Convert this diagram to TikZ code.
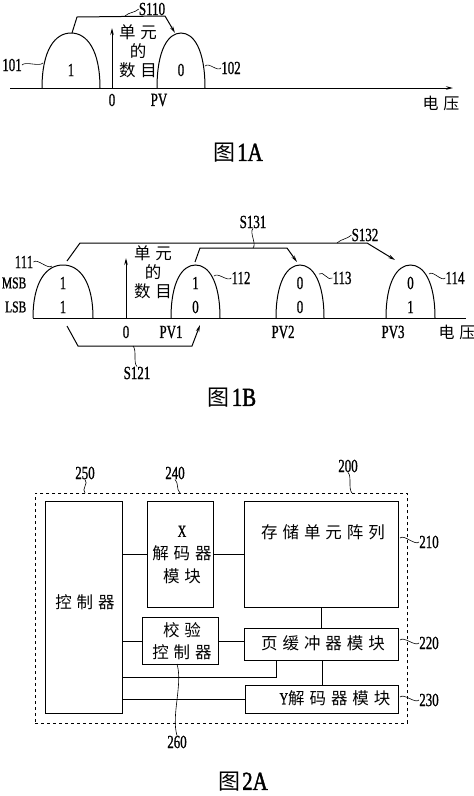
\documentclass[tikz,border=0pt]{standalone}
\usepackage{fontspec}
\setmainfont{Liberation Serif}
\newfontfamily\numf[FakeStretch=0.7,FakeBold=1]{Liberation Serif}
\newfontfamily\titf[FakeStretch=0.8,FakeBold=1.5]{Liberation Serif}
\newfontfamily\cjk{Noto Sans CJK SC}
\newfontfamily\cjkls[LetterSpace=30]{Noto Sans CJK SC}
\usetikzlibrary{arrows.meta}
\tikzset{
  num/.style={font=\numf\fontsize{18.5}{18.5}\selectfont, inner sep=0pt},
  cj/.style={font=\cjkls\fontsize{16.5}{19}\selectfont, inner sep=0pt, align=center},
  cjb/.style={font=\cjkls\fontsize{16.5}{23}\selectfont, inner sep=0pt, align=center},
  ttl/.style={inner sep=0pt},
  ln/.style={line width=1pt},
  arr/.style={ln, -{Stealth[length=7pt,width=3.5pt]}},
  sq/.style={line width=0.6pt},
  blk/.style={draw, line width=1pt, inner sep=0pt, anchor=north west},
  outerbox/.style={draw, dashed, line width=0.8pt, inner sep=0pt, anchor=north west},
}
\begin{document}
\begin{tikzpicture}[x=1pt,y=-1pt]
\useasboundingbox (0,0) rectangle (474,796);
% ---------------- Fig 1A ----------------
\coordinate (a0) at (10,88); \coordinate (a1) at (453,88);
\draw[ln,-{Stealth[length=7pt,width=3.5pt]}] (a0) -- (a1);
\draw[ln] (42,88) .. controls (42,50) and (55,33) .. (71,33) .. controls (87,33) and (100,50) .. (100,88);
\draw[ln] (157,88) .. controls (157,50) and (168,33) .. (181,33) .. controls (194,33) and (205,50) .. (205,88);
\node[num] (h101) at (71,70) {1};
\node[num] (h102) at (181,70) {0};
\node[num] (l101) at (12,65) {101};
\coordinate (p101) at (43,63);
\draw[sq] (l101.east) .. controls +(4,-4) and +(-4,4) .. (p101);
\node[num] (l102) at (231,68) {102};
\coordinate (p102) at (205,66);
\draw[sq] (p102) .. controls +(4,-4) and +(-4,4) .. (l102.west);
\coordinate (v0a) at (112,88); \coordinate (v1a) at (112,28);
\draw[arr] (v0a) -- (v1a);
\node[cj] (n1a) at (138,51) {单元\\的\\数目};
\node[num] (z1a) at (112,100) {0};
\node[num] (pv) at (159,100) {PV};
\node[cj,font=\cjkls\fontsize{16}{16}\selectfont] (volt1a) at (441,103) {电压};
\coordinate (s110s) at (72,33); \coordinate (s110b) at (77,17);
\coordinate (s110c) at (165,16); \coordinate (s110e) at (175,33);
\draw[arr] (s110s) -- (s110b) -- (s110c) -- (s110e);
\node[num] (s110) at (152,9) {S110};
\coordinate (q110) at (125,16);
\draw[sq] (q110) .. controls +(4,-4) and +(-4,4) .. (s110.west);
\node[ttl] (t1a) at (238,153) {{\cjk\fontsize{22}{22}\selectfont 图}\hspace{2pt}{\titf\fontsize{26}{26}\selectfont 1A}};
% ---------------- Fig 1B ----------------
\coordinate (b0) at (33,318); \coordinate (b1) at (466,318);
\draw[ln] (b0) -- (b1);
\draw[ln] (33,318) .. controls (33,282) and (46,265) .. (63,265) .. controls (80,265) and (93,282) .. (93,318);
\draw[ln] (171,318) .. controls (171,282) and (182,265) .. (195.5,265) .. controls (209,265) and (220,282) .. (220,318);
\draw[ln] (276,318) .. controls (276,282) and (287,265) .. (300,265) .. controls (313,265) and (324,282) .. (324,318);
\draw[ln] (386,318) .. controls (386,282) and (397,265) .. (410.5,265) .. controls (424,265) and (435,282) .. (435,318);
\node[num,anchor=east,font=\numf\fontsize{16.5}{16.5}\selectfont] (msb) at (26.5,283) {MSB};
\node[num,anchor=east,font=\numf\fontsize{16.5}{16.5}\selectfont] (lsb) at (26.5,307) {LSB};
\node[num] (m111) at (63,283) {1}; \node[num] (b111) at (63,307) {1};
\node[num] (m112) at (195.5,283) {1}; \node[num] (b112) at (195.5,307) {0};
\node[num] (m113) at (300,283) {0}; \node[num] (b113) at (300,307) {0};
\node[num] (m114) at (410.5,283) {0}; \node[num] (b114) at (410.5,307) {1};
\node[num] (l111) at (24,262) {111};
\coordinate (p111) at (52,266);
\draw[sq] (l111.east) .. controls +(4,-4) and +(-4,4) .. (p111);
\node[num] (l112) at (241,278) {112};
\coordinate (p112) at (214,276);
\draw[sq] (p112) .. controls +(4,-4) and +(-4,4) .. (l112.west);
\node[num] (l113) at (342,278) {113};
\coordinate (p113) at (319,274);
\draw[sq] (p113) .. controls +(4,-4) and +(-4,4) .. (l113.west);
\node[num] (l114) at (455,278) {114};
\coordinate (p114) at (429,274);
\draw[sq] (p114) .. controls +(4,-4) and +(-4,4) .. (l114.west);
\coordinate (v0b) at (126,318); \coordinate (v1b) at (126,258);
\draw[arr] (v0b) -- (v1b);
\node[cj] (n1b) at (153,272) {单元\\的\\数目};
\node[num] (z1b) at (126,332) {0};
\node[num] (pv1) at (171,332) {PV1};
\node[num] (pv2) at (283,332) {PV2};
\node[num] (pv3) at (393,332) {PV3};
\node[cj,font=\cjkls\fontsize{16}{16}\selectfont] (volt1b) at (457,332) {电压};
% S121
\coordinate (s121s) at (67,326); \coordinate (s121b) at (78,346);
\coordinate (s121c) at (192,346); \coordinate (s121e) at (200,325);
\draw[arr] (s121s) -- (s121b) -- (s121c) -- (s121e);
\node[num] (s121) at (137,373) {S121};
\coordinate (q121) at (133,346);
\draw[sq] (q121) .. controls +(4,4) and +(-4,-4) .. (s121.north);
% S132
\coordinate (s132s) at (67,261); \coordinate (s132b) at (80,243);
\coordinate (s132c) at (367,243); \coordinate (s132e) at (395,260);
\draw[arr] (s132s) -- (s132b) -- (s132c) -- (s132e);
\node[num] (s132) at (365,235) {S132};
\coordinate (q132) at (337,243);
\draw[sq] (q132) .. controls +(4,-4) and +(-4,4) .. (s132.west);
% S131
\coordinate (s131s) at (195,262); \coordinate (s131b) at (200,248);
\coordinate (s131c) at (287,248); \coordinate (s131e) at (297,262);
\draw[arr] (s131s) -- (s131b) -- (s131c) -- (s131e);
\node[num] (s131) at (253,222) {S131};
\coordinate (q131) at (253,248);
\draw[sq] (q131) .. controls +(4,-4) and +(-4,4) .. (s131.south);
\node[ttl] (t1b) at (232,398) {{\cjk\fontsize{22}{22}\selectfont 图}\hspace{2pt}{\titf\fontsize{26}{26}\selectfont 1B}};
% ---------------- Fig 2A ----------------
\node[outerbox, minimum width=372pt, minimum height=230pt] (outer) at (35,493) {};
\node[blk, minimum width=77pt, minimum height=212pt] (ctrl) at (45,501) {};
\node[cjb] (ctrlt) at (85,602) {控制器};
\node[blk, minimum width=66pt, minimum height=106pt] (xdec) at (147,501) {};
\node[cjb] (xdect) at (182,555) {{\numf\fontsize{17}{17}\selectfont X}\\解码器\\模块};
\node[blk, minimum width=154pt, minimum height=106pt] (mem) at (244,501) {};
\node[cjb] (memt) at (323,532) {存储单元阵列};
\node[blk, minimum width=76pt, minimum height=47pt] (ver) at (142,617) {};
\node[cjb,font=\cjkls\fontsize{16.5}{22}\selectfont] (vert) at (182,641) {校验\\控制器};
\node[blk, minimum width=154pt, minimum height=32pt] (pb) at (244,628) {};
\node[cjb] (pbt) at (323,643) {页缓冲器模块};
\node[blk, minimum width=153pt, minimum height=28pt] (yd) at (245,685) {};
\node[cjb] (ydt) at (335,698) {{\numf\fontsize{17}{17}\selectfont Y}解码器模块};
% connections
\draw[ln] (ctrl.east |- xdec.west) -- (xdec.west);
\draw[ln] (xdec.east) -- (mem.west |- xdec.east);
\draw[ln] (ctrl.east |- ver.west) -- (ver.west);
\draw[ln] (ver.east) -- (pb.west |- ver.east);
\draw[ln] (mem.south) -- (pb.north);
\draw[ln] (pb.south) -- (yd.north |- pb.south) -- (yd.north);
\coordinate (c677) at (276,677);
\draw[ln] (ctrl.east |- c677) -- (c677) -- (c677 |- pb.south);
\draw[ln] (ctrl.east |- yd.west) -- (yd.west);
% labels
\node[num] (l250) at (85,473) {250};
\coordinate (p250) at (85,493);
\draw[sq] (l250.south) .. controls +(4,4) and +(-4,-4) .. (p250);
\node[num] (l240) at (175,473) {240};
\coordinate (p240) at (180,493);
\draw[sq] (l240.south) .. controls +(4,4) and +(-4,-4) .. (p240);
\node[num] (l200) at (348,466) {200};
\coordinate (p200) at (352,493);
\draw[sq] (l200.south) .. controls +(4,4) and +(-4,-4) .. (p200);
\node[num] (l210) at (429,542) {210};
\coordinate (p210) at (400,538);
\draw[sq] (p210) .. controls +(4,-4) and +(-4,4) .. (l210.west);
\node[num] (l220) at (429,643) {220};
\coordinate (p220) at (400,640);
\draw[sq] (p220) .. controls +(4,-4) and +(-4,4) .. (l220.west);
\node[num] (l230) at (429,700) {230};
\coordinate (p230) at (400,697);
\draw[sq] (p230) .. controls +(4,-4) and +(-4,4) .. (l230.west);
\node[num] (l260) at (177,742) {260};
\coordinate (p260) at (177,664);
\draw[sq] (p260) .. controls +(6,20) and +(-6,-20) .. (l260.north);
\node[ttl] (t2a) at (243,782) {{\cjk\fontsize{22}{22}\selectfont 图}\hspace{2pt}{\titf\fontsize{26}{26}\selectfont 2A}};
\end{tikzpicture}
\end{document}
